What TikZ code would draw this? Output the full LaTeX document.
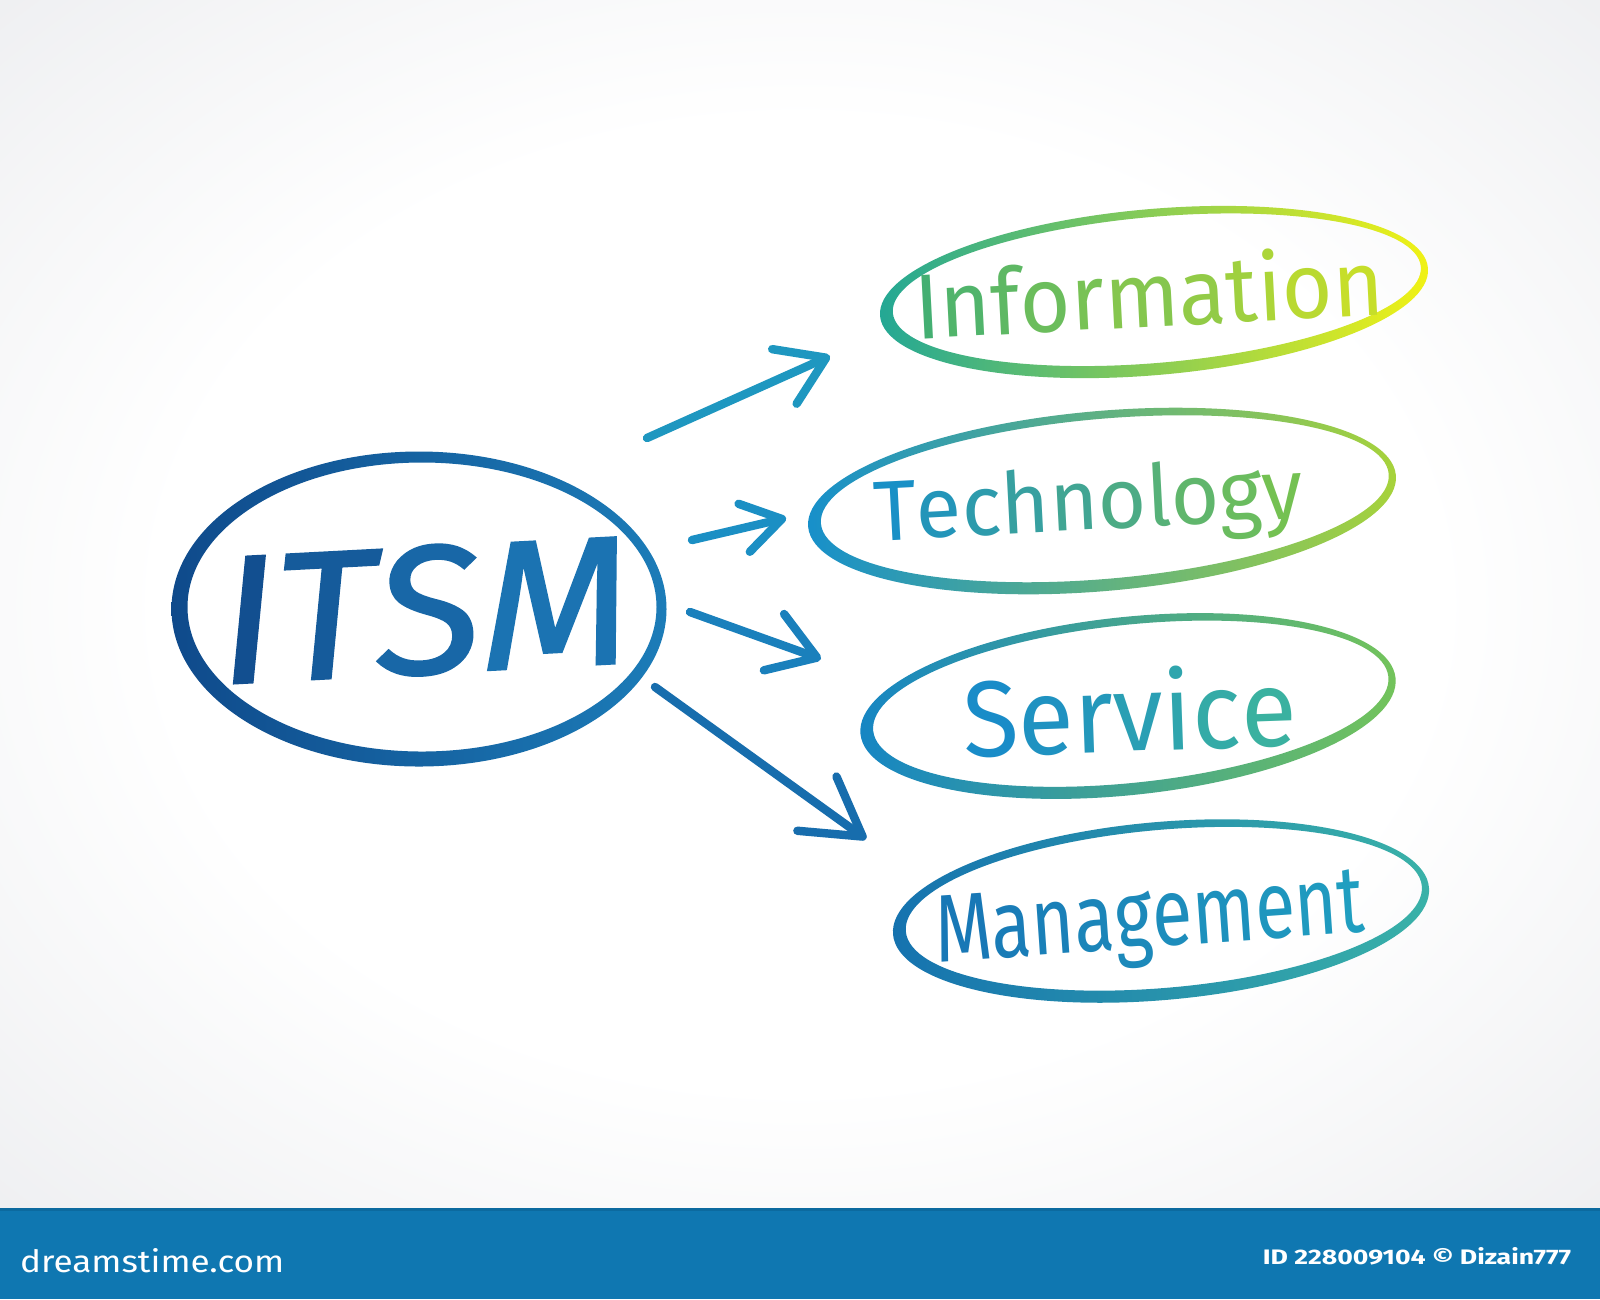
\documentclass[tikz,border=0pt]{standalone}
\usepackage{fontspec}
\setmainfont{Fira Sans}
\usepackage{graphicx}
\usetikzlibrary{arrows.meta}

\definecolor{bggray}{HTML}{E8E9EC}
\definecolor{barblue}{HTML}{0F77B1}
\definecolor{barline}{HTML}{0C6A9F}
% ring colours
\definecolor{infoRA}{HTML}{22A795}
\definecolor{infoRM}{HTML}{7CC556}
\definecolor{infoRB}{HTML}{F2F214}
\definecolor{techRA}{HTML}{168FCB}
\definecolor{techRM}{HTML}{3DAE93}
\definecolor{techRB}{HTML}{A8D33A}
\definecolor{servRA}{HTML}{1585C4}
\definecolor{servRM}{HTML}{22A0B0}
\definecolor{servRB}{HTML}{74C45A}
\definecolor{mgmtRA}{HTML}{1572AF}
\definecolor{mgmtRM}{HTML}{1C8DBC}
\definecolor{mgmtRB}{HTML}{3AB2A8}
\definecolor{itsmRA}{HTML}{0F4A8B}
\definecolor{itsmRM}{HTML}{155E9E}
\definecolor{itsmRB}{HTML}{1C7CB8}
% text colours
\definecolor{infoTA}{HTML}{44AF72}
\definecolor{infoTB}{HTML}{C6DE2A}
\definecolor{techTA}{HTML}{1990C6}
\definecolor{techTB}{HTML}{74C152}
\definecolor{servTA}{HTML}{198CC8}
\definecolor{servTB}{HTML}{3AB1A0}
\definecolor{mgmtTA}{HTML}{1878B6}
\definecolor{mgmtTB}{HTML}{209EC0}
\definecolor{itsmTA}{HTML}{124F90}
\definecolor{itsmTB}{HTML}{1B73B2}
% arrow colours
\definecolor{arA}{HTML}{1E97C0}
\definecolor{arB}{HTML}{1B8FC4}
\definecolor{arC}{HTML}{1A80BC}
\definecolor{arD}{HTML}{176DAD}

\newcommand\gl[2]{\textcolor{gA!#1!gB}{#2}}

% cx cy rx ry angle w colA colM colB
\newcommand\handring[9]{%
  \shade[left color=#7, middle color=#8, right color=#9, even odd rule,
         rotate around={#5:(#1,#2)}]
    (#1,#2) ellipse [x radius={#3+#6/2}, y radius={#4+#6/2}]
    (#1+3,#2-2) ellipse [x radius={#3-#6/2}, y radius={#4-#6/2}];}

\pgfdeclareradialshading{bgshade}{\pgfpoint{0bp}{0bp}}{color(0bp)=(white); color(20bp)=(white); color(42bp)=(bggray); color(50bp)=(bggray)}

\tikzset{
  word/.style={inner sep=0pt, outer sep=0pt},
  arr/.style={line width=2.4pt, line cap=round, line join=round,
              -{Straight Barb[length=13pt, width=17pt, round]}},
  arrsmall/.style={arr, -{Straight Barb[length=11pt, width=14pt, round]}},
  arrbig/.style={arr, -{Straight Barb[length=16pt, width=19pt, round]}}
}

\begin{document}
\begin{tikzpicture}[x=0.01cm, y=-0.01cm]
\useasboundingbox (0,0) rectangle (1600,1299);
% background
\shade[shading=bgshade] (0,0) rectangle (1600,1209);
\fill[barblue] (0,1209) rectangle (1600,1299);
\fill[barline] (0,1208) rectangle (1600,1211);

% rings
\handring{419}{609}{241}{151}{0}{13}{itsmRA}{itsmRM}{itsmRB}
\handring{1154}{292}{270}{78}{5}{10}{infoRA}{infoRM}{infoRB}
\handring{1102}{501}{290}{85}{5}{10}{techRA}{techRM}{techRB}
\handring{1128}{706}{264}{84}{6}{10}{servRA}{servRM}{servRB}
\handring{1161}{911}{264}{84}{5}{10}{mgmtRA}{mgmtRM}{mgmtRB}

% words
\node[word, anchor=base west, rotate=3] (itsm) at (222,684)
  {\colorlet{gA}{itsmTA}\colorlet{gB}{itsmTB}\itshape\addfontfeature{FakeBold=1.2}\resizebox{4.12cm}{1.28cm}{\gl{100}{I}\gl{67}{T}\gl{33}{S}\gl{0}{M}}};
\node[word, anchor=base west, rotate=3] (info) at (916,339)
  {\colorlet{gA}{infoTA}\colorlet{gB}{infoTB}\resizebox{4.70cm}{0.72cm}{\gl{100}{I}\gl{90}{n}\gl{80}{f}\gl{70}{o}\gl{60}{r}\gl{50}{m}\gl{40}{a}\gl{30}{t}\gl{20}{i}\gl{10}{o}\gl{0}{n}}};
\node[word, anchor=base west, rotate=3] (tech) at (875,541)
  {\colorlet{gA}{techTA}\colorlet{gB}{techTB}\resizebox{4.30cm}{0.64cm}{\gl{100}{T}\gl{89}{e}\gl{78}{c}\gl{67}{h}\gl{56}{n}\gl{44}{o}\gl{33}{l}\gl{22}{o}\gl{11}{g}\gl{0}{y}}};
\node[word, anchor=base west, rotate=2] (serv) at (964,757)
  {\colorlet{gA}{servTA}\colorlet{gB}{servTB}\resizebox{3.34cm}{0.84cm}{\gl{100}{S}\gl{83}{e}\gl{67}{r}\gl{50}{v}\gl{33}{i}\gl{17}{c}\gl{0}{e}}};
\node[word, anchor=base west, rotate=4] (mgmt) at (937,962)
  {\colorlet{gA}{mgmtTA}\colorlet{gB}{mgmtTB}\resizebox{4.30cm}{0.66cm}{\gl{100}{M}\gl{89}{a}\gl{78}{n}\gl{67}{a}\gl{56}{g}\gl{44}{e}\gl{33}{m}\gl{22}{e}\gl{11}{n}\gl{0}{t}}};

% arrow end points
\coordinate (a1s) at (647,438); \coordinate (a1e) at (830,356);
\coordinate (a2s) at (692,540); \coordinate (a2e) at (786,518);
\coordinate (a3s) at (690,612); \coordinate (a3e) at (821,659);
\coordinate (a4s) at (655,687); \coordinate (a4e) at (866,839);
\draw[arr, arA] (a1s) -- (a1e);
\draw[arrsmall, arB] (a2s) -- (a2e);
\draw[arr, arC] (a3s) -- (a3e);
\draw[arrbig, arD] (a4s) -- (a4e);

% footer
\node[word, anchor=base west, text=white] (brand) at (20,1272)
  {\resizebox{2.64cm}{0.24cm}{dreamstime.com}};
\node[word, anchor=base east, text=white, font=\bfseries] (credit) at (1571,1264)
  {\resizebox{3.08cm}{0.17cm}{ID 228009104 \textcopyright{} Dizain777}};
\end{tikzpicture}
\end{document}
